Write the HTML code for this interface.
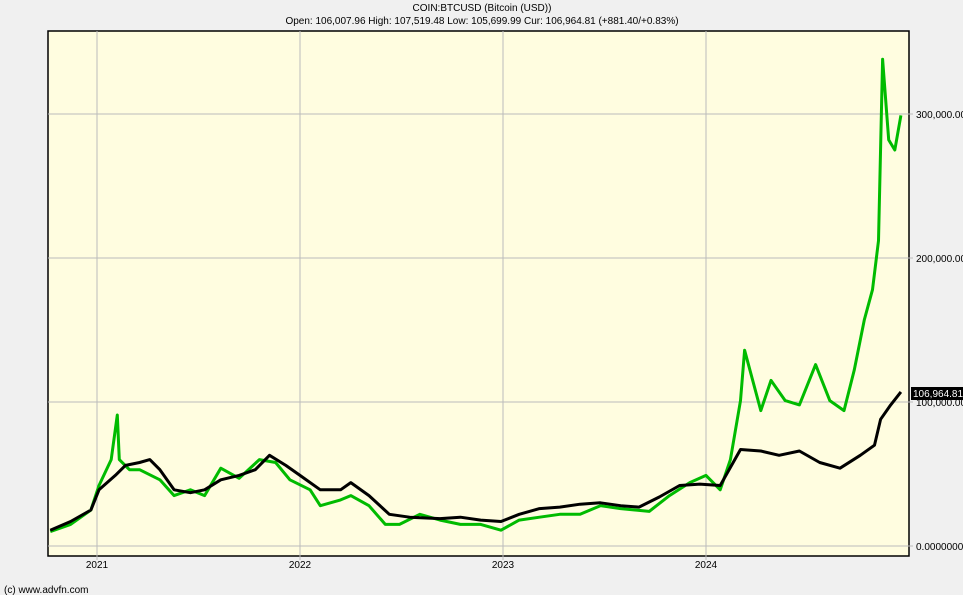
<!DOCTYPE html>
<html><head><meta charset="utf-8"><style>
body{margin:0;background:#f0f0f0;width:963px;height:595px;overflow:hidden;font-family:"Liberation Sans",sans-serif}
svg{display:block}
text{font-family:"Liberation Sans",sans-serif;font-size:10px;fill:#000}
</style></head><body>
<svg width="963" height="595">
<text x="482" y="11" text-anchor="middle">COIN:BTCUSD (Bitcoin (USD))</text>
<text x="482" y="24" text-anchor="middle">Open: 106,007.96 High: 107,519.48 Low: 105,699.99 Cur: 106,964.81 (+881.40/+0.83%)</text>
<rect x="48" y="31" width="861" height="525" fill="#fffde0" stroke="#000" stroke-width="1.5"/>
<g id="grid"></g>
<g id="series"></g>
<g id="labels"></g>
<rect x="911" y="387" width="52" height="13" fill="#000"/>
<text x="913" y="397" style="fill:#fff">106,964.81</text>
<text x="4" y="593">(c) www.advfn.com</text>
</svg>
<script>
const blackDates=[2020.77,2020.87,2020.97,2021.01,2021.09,2021.14,2021.21,2021.26,2021.31,2021.38,2021.46,2021.53,2021.61,2021.70,2021.78,2021.85,2021.93,2022.00,2022.10,2022.20,2022.25,2022.34,2022.44,2022.54,2022.69,2022.79,2022.89,2022.99,2023.08,2023.18,2023.28,2023.38,2023.48,2023.58,2023.67,2023.77,2023.87,2023.97,2024.07,2024.17,2024.27,2024.36,2024.46,2024.56,2024.66,2024.76,2024.83,2024.86,2024.91,2024.96];
const blackValues=[11,17,25,39,49,56,58,60,53,39,37,39,46,49,53,63,56,49,39,39,44,35,22,20,19,20,18,17,22,26,27,29,30,28,27,34,42,43,42,67,66,63,66,58,54,63,70,88,98,107];
const greenDates=[2020.77,2020.87,2020.97,2021.01,2021.07,2021.10,2021.11,2021.16,2021.21,2021.31,2021.38,2021.46,2021.53,2021.61,2021.70,2021.80,2021.88,2021.95,2022.05,2022.10,2022.20,2022.25,2022.34,2022.42,2022.49,2022.59,2022.69,2022.79,2022.89,2022.99,2023.08,2023.18,2023.28,2023.38,2023.48,2023.58,2023.72,2023.82,2023.92,2024.00,2024.07,2024.12,2024.17,2024.19,2024.27,2024.32,2024.39,2024.46,2024.54,2024.61,2024.68,2024.73,2024.78,2024.82,2024.85,2024.87,2024.90,2024.93,2024.96];
const greenValues=[10,15,25,42,60,91,60,53,53,46,35,39,35,54,47,60,58,46,39,28,32,35,28,15,15,22,18,15,15,11,18,20,22,22,28,26,24,35,44,49,39,60,101,136,94,115,101,98,126,101,94,122,157,178,212,338,282,275,299];
const yTicks=[0,100000,200000,300000];
const yTickLabels=["0.000000000","100,000.00","200,000.00","300,000.00"];
const xTicks=[2021,2022,2023,2024];
const xTickLabels=["2021","2022","2023","2024"];
const NS="http://www.w3.org/2000/svg";
const xs=t=>97+(t-2021)*203;
const ys=v=>546-v*0.00144;
const grid=document.getElementById('grid'),lab=document.getElementById('labels'),ser=document.getElementById('series');
yTicks.forEach((v,i)=>{
 const l=document.createElementNS(NS,'line');
 l.setAttribute('x1',48);l.setAttribute('x2',913);l.setAttribute('y1',ys(v));l.setAttribute('y2',ys(v));
 l.setAttribute('stroke','#bbb');
 
 
 grid.appendChild(l);
 const t=document.createElementNS(NS,'text');
 t.setAttribute('x',916);t.setAttribute('y',ys(v)+4);t.textContent=yTickLabels[i];
 
 
 lab.appendChild(t);
});
xTicks.forEach((v,i)=>{
 const l=document.createElementNS(NS,'line');
 l.setAttribute('x1',xs(v));l.setAttribute('x2',xs(v));l.setAttribute('y1',31);l.setAttribute('y2',560);
 l.setAttribute('stroke','#bbb');
 
 
 grid.appendChild(l);
 const t=document.createElementNS(NS,'text');
 t.setAttribute('x',xs(v));t.setAttribute('y',568);t.setAttribute('text-anchor','middle');t.textContent=xTickLabels[i];
 
 
 lab.appendChild(t);
});
function line(d,v,c,name){
 const p=document.createElementNS(NS,'polyline');
 p.setAttribute('points',d.map((t,i)=>xs(t).toFixed(1)+','+ys(v[i]*1000).toFixed(1)).join(' '));
 p.setAttribute('fill','none');p.setAttribute('stroke',c);p.setAttribute('stroke-width','3');p.setAttribute('stroke-linejoin','round');
 
 
 ser.appendChild(p);
}
line(greenDates,greenValues,'#00bb00','green-series-line');
line(blackDates,blackValues,'#000','btc-price-line');
</script>
</body></html>
